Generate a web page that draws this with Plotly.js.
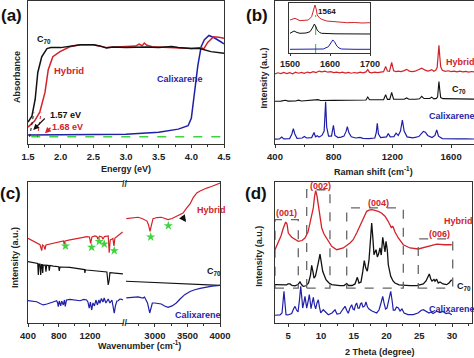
<!DOCTYPE html>
<html><head><meta charset="utf-8">
<script src="https://cdn.plot.ly/plotly-3.0.1.min.js"></script>
<style>html,body{margin:0;padding:0;background:#fff}#chart{width:474px;height:358px}</style>
</head><body><div id="chart"></div>
<script>
// ---------- (a) UV-Vis absorbance ----------
var uvE_C70 = [1.50,1.56,1.61,1.65,1.71,1.79,1.85,2.0,2.3,2.5,2.6,2.7,2.8,3.0,3.3,3.5,3.7,3.8,4.0,4.13,4.3,4.5];
var uvA_C70 = [15.3,19.4,31.3,50,61,66.7,67.4,67.4,69.4,69.4,68.6,67.2,67.8,67.4,67.9,67.4,68.2,67.5,66.7,66.7,64.6,63.4];
var uvE_Hyb = [1.50,1.60,1.68,1.76,1.81,1.88,1.99,2.14,2.3,2.5,2.7,3.0,3.15,3.2,3.25,3.28,3.32,3.4,3.7,4.0,4.15,4.19,4.25,4.34,4.42,4.5];
var uvA_Hyb = [11.8,16,22.2,36.1,52,61.1,64.6,68,69.4,69.4,67.4,68,68.5,69.8,68.8,70.6,69,68,67.4,66.7,67.4,66.5,71,75,74.6,73.9];
var uvE_Cal = [1.5,2.0,2.5,3.0,3.5,3.8,3.95,4.0,4.05,4.1,4.15,4.2,4.27,4.35,4.45,4.5];
var uvA_Cal = [6.3,6.3,6.6,6.9,8.3,10.4,12.8,18,35,55,68,73,75.9,74.3,71.5,70.1];
var uvBaseE = [1.55,4.5];
var uvBaseA = [5.1,5.1];
var tanC70E = [1.525,1.59], tanC70A = [5,22];
var tanHybE = [1.645,1.70], tanHybA = [5,22];

// ---------- (b) Raman ----------
var ramX_Hyb = [400,420,440,460,480,500,520,540,560,580,600,620,640,660,680,700,720,740,760,780,800,820,840,860,880,900,920,940,960,980,1000,1020,1032,1044,1060,1080,1100,1120,1140,1154,1166,1180,1195,1208,1225,1240,1260,1280,1297,1315,1335,1355,1375,1400,1420,1440,1455,1468,1482,1495,1505,1511,1517,1523,1529,1540,1560,1580,1600,1620,1640,1660,1680,1700,1720,1740,1756];
var ramY_Hyb = [49.0,49.8,49.2,50.0,49.3,49.9,49.1,50.2,49.5,50.1,49.4,50.3,49.8,50.6,50.0,51.0,50.4,50.9,50.2,50.6,49.9,50.3,49.7,50.2,49.6,50.1,49.5,50.0,49.6,50.2,49.8,50.4,52.0,50.1,49.8,50.3,49.9,50.5,50.6,54.2,51.0,50.8,57.0,51.2,50.6,51.0,50.6,51.3,52.2,51.0,50.6,50.9,51.6,53.0,51.8,51.0,51.3,52.0,50.9,51.5,53.5,60,69.0,61,54.0,51.6,50.8,51.2,50.6,51.0,50.4,50.9,50.5,50.8,50.3,50.7,50.4];
var ramX_C70 = [400,440,470,490,540,561,580,640,693,710,740,760,800,900,1000,1020,1032,1044,1100,1140,1154,1166,1182,1195,1208,1250,1280,1297,1312,1360,1385,1400,1415,1455,1468,1482,1500,1508,1511,1517,1523,1529,1545,1600,1700,1756];
var ramY_C70 = [29.9,30.0,30.6,30.0,30.1,30.7,30.1,30.3,31.0,30.4,30.6,30.4,30.5,30.6,30.7,30.8,32.9,30.9,30.9,31.0,34.5,31.2,31.2,36.0,31.4,31.2,31.3,32.2,31.3,31.3,31.6,33.3,31.8,31.8,32.8,31.6,31.9,33.0,37,43.7,37.5,32.5,31.7,31.5,31.5,31.4];
var ramX_Cal = [400,430,446,460,500,515,525,535,550,585,600,615,650,666,676,688,700,720,735,745,752,765,785,798,808,830,850,870,885,893,903,920,950,979,1000,1040,1080,1090,1097,1105,1120,1160,1172,1185,1210,1225,1240,1255,1268,1280,1300,1340,1380,1400,1411,1425,1440,1470,1490,1502,1514,1540,1600,1650,1700,1756];
var ramY_Cal = [3.4,3.5,4.8,3.6,3.8,7,10.8,7,4,4.2,5.3,4.2,4.5,8,5,5.8,4.8,6,9,29.5,12,5.5,5.5,13.1,6,4.5,4.8,5.5,9,12.2,8,5,4.2,4.6,4.0,3.8,4.2,8,14.5,7,4.5,5,7.4,5,5.2,7.6,6,9,16.8,9,5,4.3,5.2,8,8.8,8.3,6,4.5,6,9.9,5.5,3.8,3.5,3.6,3.6,3.5];
// inset
var insX_Hyb = [1500,1512.5,1525,1537.5,1545.8,1554,1559,1562.5,1566,1568,1574,1579,1592,1608,1625,1642,1662,1680,1700];
var insY_Hyb = [66,69.4,64.6,65.4,66,72.6,86,96,86,76,70,67.4,64,62.6,62,60.6,61,60,60.6];
var insX_C70 = [1500,1510,1517.5,1525,1540,1550,1556,1561,1565,1568,1574,1579,1612.5,1650,1700];
var insY_C70 = [39.4,44,41,39.4,40,42.6,50,58,52,46,41,39.4,38.4,38,38];
var insX_Cal = [1500,1550,1583,1596,1602.5,1607,1611,1617,1622.5,1629,1662.5,1700];
var insY_Cal = [7.4,7.4,8,12.6,22,26,23,14,10,8,7.4,7.4];
var insMarkX = [1564,1564], insMarkY = [0,76];

// ---------- (c) FTIR ----------
var irL_X_Hyb = [400,490,529,555,577,587,606,619,632,684,748,813,858,868,877,942,1028,1097,1157,1194,1209,1226,1265,1290,1303,1323,1355,1368,1387,1436,1449,1462,1480,1497,1510,1523,1545,1578,1600,1622];
var irL_Y_Hyb = [60.1,57.7,56.7,55.5,51.3,55.3,54.6,52.1,55.3,56,56.4,57.7,58.2,55.7,58.2,58.9,60.1,60.6,61.2,61,56.5,61,61.7,61.3,59.4,61.6,61,59.4,61.3,61.7,49.9,58.9,59.4,59.9,54.6,60.3,61.2,62.4,63.1,64.5];
var irR_X_Hyb = [2560,2648,2740,2802,2843,2878,2902,2925,2940,2955,2971,3032,3098,3155,3202,3263,3329,3386,3432,3489,3540,3586,3643,3694,3740,3797,3868,3925,4002];
var irR_Y_Hyb = [74,74.5,75,74.1,73.3,72.3,69.5,65,68.1,72.3,74,74.8,75,74.1,73.3,74.1,75.7,77.3,78,81.6,84.4,88.7,92.2,93.6,94.3,95.7,96.8,97.9,99.3];
var irL_X_C70 = [400,465,512,526,533,542,555,564,574,583,590,597,623,632,641,667,675,684,726,796,804,813,942,1045,1130,1135,1142,1157,1265,1372,1419,1436,1449,1458,1523,1609,1626];
var irL_Y_C70 = [43.5,42.9,42.3,42.2,34,41.8,41.8,34,41.5,41.5,35.5,41.1,41.1,36.4,41,40.8,37.1,40.8,40.4,39.9,36.9,39.7,39.5,38.7,37.9,35.5,37.8,37.6,36.9,36.4,36.2,27,30.5,35.7,35.2,34.8,34.8];
var irR_X_C70 = [2555,2771,3078,3458,3694,4002];
var irR_Y_C70 = [29.6,29.1,28.4,27.7,27.2,26.7];
var irL_X_Cal = [400,452,512,555,597,645,684,723,770,783,791,804,822,835,855,871,881,897,942,1006,1071,1123,1157,1174,1191,1206,1222,1239,1258,1277,1297,1316,1329,1348,1368,1384,1406,1436,1458,1484,1501,1514,1529,1548,1565,1587,1609,1626];
var irL_Y_Cal = [15.8,15.7,15.1,13.8,12.8,13.5,14,14.9,15.8,14.2,11.6,15.6,12.1,15.6,12.8,16.3,11.7,16.3,16.8,16.3,15.8,16.7,16.3,14.9,10.6,14.9,9.2,14.2,12.1,16.3,12.8,16.3,14,17.4,14.9,17.7,14.2,17,14.2,16.3,11.3,6.9,12.1,15.6,15.8,17,16.8,16.3];
var irR_X_Cal = [2560,2648,2740,2786,2817,2840,2863,2886,2920,2940,2960,2997,3048,3098,3148,3202,3263,3329,3386,3458,3540,3612,3694,3766,3878,4002];
var irR_Y_Cal = [17.8,18.3,18.5,18,17.7,18.4,16.3,14.2,7.1,12.1,14.2,14.2,13.8,13.5,12.1,11.1,12.1,14.2,17,20.1,22.3,23.6,24.5,25.3,26.2,26.7];
var irStarL_X = [884,1222,1320,1385,1514], irStarL_Y = [54.6,53.7,57.8,56,51.3];
var irStarR_X = [2935,3206], irStarR_Y = [61,69];

// ---------- (d) XRD ----------
var xrdX_Hyb = [3.00,3.50,3.91,4.27,4.63,4.83,5.03,5.55,6.05,6.55,7.12,7.57,8.03,8.34,8.59,8.84,9.02,9.2,9.4,9.6,9.86,10.12,10.47,10.88,11.64,12.41,13.41,14.43,14.89,15.45,15.8,16.22,16.57,16.98,17.33,17.74,18.24,18.75,19.23,19.77,20.23,20.53,20.76,20.91,21.03,21.29,21.8,22.56,23.58,24.84,26.37,27.65,28.91,29.94];
var xrdY_Hyb = [52,56.7,61.7,67.4,71.6,70.2,63.8,60.8,59.2,57.9,58.5,60.3,64.5,70.9,76.6,81.6,89.4,93.8,90.1,82.8,74.5,67.4,63.1,60.3,54.4,52,53.2,56.7,58.9,63.8,67.4,72.1,75.9,79.2,80.1,80.4,79.8,79.2,78,75.7,72.3,69.7,67.4,68.8,67.9,64.5,60.3,55.5,53.2,52.5,54.4,56,55.5,55.5];
var xrdX_C70 = [3.0,3.76,4.27,4.75,4.98,5.29,5.59,6.05,6.51,6.81,7.04,7.31,7.73,8.11,8.41,8.59,8.79,8.95,9.17,9.4,9.63,9.86,10.09,10.27,10.77,11.23,11.64,12.3,12.91,13.52,13.93,14.2,14.74,15.2,15.55,15.8,16.11,16.37,16.61,16.84,17.07,17.33,17.56,17.74,17.94,18.09,18.24,18.4,18.6,18.78,19.0,19.2,19.42,19.62,19.77,19.92,20.12,20.27,20.64,20.99,21.29,21.9,22.56,23.58,24.6,25.1,25.61,26.02,26.32,26.52,26.75,26.93,27.24,27.39,27.62,27.89,28.15,28.61,29.17,29.52,29.94];
var xrdY_C70 = [27.2,27,26.7,27,27.7,27.7,26.6,26.4,27.3,29.1,27.3,26,26.4,28.4,34,40.9,36.2,31.9,33.3,37.6,43.3,48.9,43.3,36.7,30.7,28.4,27.2,26.6,26.5,26.6,28,26.6,26.6,27.7,32.4,28.4,29.1,36.2,44.2,39,36.7,44.7,58.9,70.9,58.9,48.4,50.4,52,46.8,48.9,53.2,48.2,60.8,53.9,50.4,57.9,51.8,41.3,33.1,29.8,28.4,27,26.7,26.5,26.5,27,27.7,29.8,33.3,34.8,31.2,29.8,30.9,29.6,31.2,28.4,29.1,27.7,27.2,28.4,30.7];
var xrdX_Cal = [3.0,3.76,4.07,4.25,4.37,4.52,4.68,4.98,5.55,5.82,6.05,6.28,6.51,6.73,6.92,7.12,7.22,7.42,7.57,7.76,7.83,8.03,8.23,8.41,8.49,8.69,8.84,9.02,9.2,9.4,9.6,9.78,9.97,10.36,10.77,11.13,11.69,12.15,12.45,12.91,13.37,13.67,13.98,14.17,14.43,14.69,14.89,15.09,15.27,15.45,15.65,15.85,16.03,16.22,16.41,16.67,16.87,17.1,17.33,17.79,18.5,18.85,19.16,19.42,19.62,19.85,20.07,20.38,20.64,20.84,21.03,21.29,21.52,21.8,22.06,22.36,22.67,23.27,24.08,24.8,25.26,25.61,26.02,26.48,26.78,27.09,27.65,28.15,28.61,29.07,29.52,29.94];
var xrdY_Cal = [5.5,5.7,7.1,16.3,22.5,14.2,5.9,5.7,6.7,9.9,11.8,9.2,7.8,16.3,26,16.3,10.6,14.9,18.9,12.8,10.6,14.9,20.1,13.5,10.1,14.9,18.2,12.8,10.1,14.2,16.5,11.3,7.1,9.4,7.1,5.9,7.1,9.4,6.4,6.7,9.9,11.8,8.5,6.9,10.6,13,9.9,9.4,12.8,14.2,10.6,10.6,13.5,14.2,11.3,12.1,14.9,11.3,9.9,8.5,7.1,9.2,14.2,18.9,14.2,9.9,10.6,16.3,22.5,16.3,9.2,9.2,11.3,10.6,8.5,9.9,7.1,6,5.9,7.1,8.9,9.4,8.2,7.1,7.8,6.7,8.3,7.4,8.2,6.7,7.1,5.9];
// dashed regions of the (00l) reflections
var xrdRegionX0 = [3.0, 7.83, 13.93, 24.84];
var xrdRegionX1 = [6.55, 11.38, 22.56, 30.09];
var xrdRegionTop = [73.3, 94.5, 81.6, 59.6];
var xrdRegionBottom = 24.8;
var xrdRegionLabels = ['(001)','(002)','(004)','(006)'];

// ---------- styling / layout ----------
var W = 474, H = 358;
function fx(px){ return px / W; }
function fy(py){ return 1 - py / H; }
var RED = '#d2232a', BLK = '#111111', BLU = '#1f1fa8', GRN = '#3fd33f', AX = '#333333';
var FONT = 'Liberation Sans, Arial, sans-serif';

function ln(x, y, xa, ya, color, w, dash){
  return {x: x, y: y, xaxis: xa, yaxis: ya, type: 'scatter', mode: 'lines',
          line: {color: color, width: w || 1.3, dash: dash || 'solid'}, hoverinfo: 'skip'};
}
var traces = [
  ln(uvBaseE, uvBaseA, 'x', 'y', GRN, 1.5, 'dash'),
  ln(uvE_Cal, uvA_Cal, 'x', 'y', BLU, 1.5),
  ln(uvE_Hyb, uvA_Hyb, 'x', 'y', RED, 1.5),
  ln(uvE_C70, uvA_C70, 'x', 'y', BLK, 1.5),
  ln(tanC70E, tanC70A, 'x', 'y', BLK, 1, 'dot'),
  ln(tanHybE, tanHybA, 'x', 'y', RED, 1, 'dot'),

  ln(ramX_Hyb, ramY_Hyb, 'x2', 'y2', RED, 1.2),
  ln(ramX_C70, ramY_C70, 'x2', 'y2', BLK, 1.1),
  ln(ramX_Cal, ramY_Cal, 'x2', 'y2', BLU, 1.2),
  ln(insMarkX, insMarkY, 'x6', 'y5', GRN, 1.2, 'dash'),
  ln(insX_Hyb, insY_Hyb, 'x6', 'y5', RED, 1),
  ln(insX_C70, insY_C70, 'x6', 'y5', BLK, 1),
  ln(insX_Cal, insY_Cal, 'x6', 'y5', BLU, 1),

  ln(irL_X_Hyb, irL_Y_Hyb, 'x3', 'y3', RED, 1.2),
  ln(irL_X_C70, irL_Y_C70, 'x3', 'y3', BLK, 1.2),
  ln(irL_X_Cal, irL_Y_Cal, 'x3', 'y3', BLU, 1.2),
  ln(irR_X_Hyb, irR_Y_Hyb, 'x4', 'y6', RED, 1.2),
  ln(irR_X_C70, irR_Y_C70, 'x4', 'y6', BLK, 1.2),
  ln(irR_X_Cal, irR_Y_Cal, 'x4', 'y6', BLU, 1.2),
  {x: irStarL_X, y: irStarL_Y, xaxis: 'x3', yaxis: 'y3', type: 'scatter', mode: 'markers', cliponaxis: false,
   marker: {symbol: 'star', size: 7, color: GRN, line: {width: 0}}, hoverinfo: 'skip'},
  {x: irStarR_X, y: irStarR_Y, xaxis: 'x4', yaxis: 'y6', type: 'scatter', mode: 'markers', cliponaxis: false,
   marker: {symbol: 'star', size: 7, color: GRN, line: {width: 0}}, hoverinfo: 'skip'},

  ln(xrdX_Hyb, xrdY_Hyb, 'x5', 'y4', RED, 1.3),
  ln(xrdX_C70, xrdY_C70, 'x5', 'y4', BLK, 1.3),
  ln(xrdX_Cal, xrdY_Cal, 'x5', 'y4', BLU, 1.2)
];

var tickF = {size: 9.5, color: '#222', family: FONT, weight: 'bold'};
function xax(d, r, extra){
  var o = {domain: d, range: r, showline: true, linecolor: AX, linewidth: 1.4, mirror: true,
           ticks: 'outside', ticklen: 3, tickwidth: 1, tickcolor: AX, tickfont: tickF,
           showgrid: false, zeroline: false, fixedrange: true};
  for (var k in extra) o[k] = extra[k];
  return o;
}
function yax(d, extra){
  var o = {domain: d, range: [0, 100], showline: true, linecolor: AX, linewidth: 1.4, mirror: true,
           ticks: '', showticklabels: false, showgrid: false, zeroline: false, fixedrange: true};
  for (var k in extra) o[k] = extra[k];
  return o;
}
var topRow = [fy(144), fy(1)];
var botRow = [fy(323), fy(182)];

var layout = {
  width: W, height: H, margin: {l: 0, r: 0, t: 0, b: 0},
  paper_bgcolor: '#fff', plot_bgcolor: 'rgba(0,0,0,0)', showlegend: false,
  font: {family: FONT, size: 9.5, color: '#222', weight: 'bold'},
  xaxis: xax([fx(28), fx(224)], [1.5, 4.5], {anchor: 'y', dtick: 0.5, tick0: 1.5, tickformat: '.1f',
          minor: {dtick: 0.25, ticks: 'outside', ticklen: 2, tickcolor: AX}}),
  yaxis: yax(topRow, {anchor: 'x'}),
  xaxis2: xax([fx(275), 1], [400, 1756], {anchor: 'y2', dtick: 400, tick0: 400,
          minor: {dtick: 200, ticks: 'outside', ticklen: 2, tickcolor: AX}}),
  yaxis2: yax(topRow, {anchor: 'x2'}),
  xaxis3: xax([fx(28), fx(124)], [400, 1640], {anchor: 'y3', tickvals: [400, 800, 1200],
          minor: {tickvals: [600, 1000, 1400], ticks: 'outside', ticklen: 2, tickcolor: AX}}),
  yaxis3: yax(botRow, {anchor: 'x3', mirror: false}),
  xaxis4: xax([fx(125), fx(220)], [2540, 4000], {anchor: 'y6', tickvals: [3000, 3500, 4000],
          minor: {tickvals: [2750, 3250, 3750], ticks: 'outside', ticklen: 2, tickcolor: AX}}),
  yaxis6: yax(botRow, {anchor: 'x4', side: 'right', mirror: false}),
  xaxis5: xax([fx(275), fx(472)], [3, 33.03], {anchor: 'y4', dtick: 5, tick0: 0,
          minor: {dtick: 2.5, ticks: 'outside', ticklen: 2, tickcolor: AX}}),
  yaxis4: yax(botRow, {anchor: 'x5'}),
  xaxis6: xax([fx(289), fx(370)], [1497.5, 1700], {anchor: 'y5', tickvals: [1500, 1600, 1700], ticklen: 2,
          linewidth: 1, tickfont: {size: 9, color: '#222', family: FONT, weight: 'bold'}}),
  yaxis5: yax([fy(53), fy(3)], {anchor: 'x6', linewidth: 1}),
  shapes: [],
  annotations: []
};

for (var i = 0; i < xrdRegionX0.length; i++) {
  layout.shapes.push({type: 'rect', xref: 'x5', yref: 'y4', x0: xrdRegionX0[i], x1: xrdRegionX1[i],
    y0: xrdRegionBottom, y1: xrdRegionTop[i], line: {color: '#666', width: 1.3, dash: 'dash'}});
}

function txt(x, y, t, color, xr, yr, opts){
  var a = {x: x, y: y, text: t, xref: xr, yref: yr, showarrow: false,
           font: {family: FONT, size: 9, color: color, weight: 'bold'}, xanchor: 'left', yanchor: 'middle'};
  for (var k in opts) a[k] = opts[k];
  return a;
}
function arrow(x, y, xr, yr, ax, ay, color, size, width){
  return {x: x, y: y, xref: xr, yref: yr, text: '', showarrow: true, ax: ax, ay: ay,
          arrowhead: 2, arrowsize: size, arrowwidth: width, arrowcolor: color};
}
var A = layout.annotations;
// (a)
A.push(txt(1.607, 73.2, 'C<sub>70</sub>', BLK, 'x', 'y'));
A.push(txt(1.863, 51.7, 'Hybrid', RED, 'x', 'y', {font: {family: FONT, size: 9.5, color: RED, weight: 'bold'}}));
A.push(txt(3.444, 45.2, 'Calixarene', BLU, 'x', 'y'));
A.push(txt(1.811, 20.3, '1.57 eV', BLK, 'x', 'y'));
A.push(txt(1.837, 11.7, '1.68 eV', RED, 'x', 'y'));
A.push(arrow(1.58, 9.8, 'x', 'y', 13, -13, BLK, 1, 1.2));
A.push(arrow(1.76, 7.5, 'x', 'y', 7, -7, RED, 1, 1.2));
// (b)
A.push(txt(1552, 57.2, 'Hybrid', RED, 'x2', 'y2'));
A.push(txt(1592, 37.9, 'C<sub>70</sub>', BLK, 'x2', 'y2'));
A.push(txt(1436, 19.3, 'Calixarene', BLU, 'x2', 'y2'));
A.push(txt(1592.5, 82, '1564', BLK, 'x6', 'y5', {xanchor: 'center', font: {family: FONT, size: 8, color: BLK, weight: 'bold'}}));
// (c)
A.push(txt(3617, 80.1, 'Hybrid', RED, 'x4', 'y6'));
A.push(txt(3772, 36.2, 'C<sub>70</sub>', BLK, 'x4', 'y6'));
A.push(txt(3278, 5.9, 'Calixarene', BLU, 'x4', 'y6'));
A.push(arrow(3478, 71.6, 'x4', 'y6', -5, -7, BLK, 0.7, 2));

function ptext(t, px, py, size, color, rot){
  return {x: fx(px), y: fy(py), xref: 'paper', yref: 'paper', text: t, showarrow: false,
          xanchor: 'center', yanchor: 'middle', textangle: rot || 0,
          font: {family: FONT, size: size, color: color, weight: 'bold'}};
}
A.push(ptext('//', 125, 183.5, 9, AX));
A.push(ptext('//', 125, 323, 9, AX));
// (d)
var xrdLabX = [4.68, 9.86, 18.75, 28.15], xrdLabY = [78, 97, 85.1, 63.1];
for (var j = 0; j < xrdRegionLabels.length; j++) {
  A.push(txt(xrdLabX[j], xrdLabY[j], xrdRegionLabels[j], RED, 'x5', 'y4', {xanchor: 'center'}));
}
A.push(txt(28.41, 72.1, 'Hybrid', RED, 'x5', 'y4'));
A.push(txt(30.44, 26, 'C<sub>70</sub>', BLK, 'x5', 'y4'));
A.push(txt(26.12, 10.1, 'Calixarene', BLU, 'x5', 'y4'));

// panel letters
A.push(ptext('(a)', 11, 15.5, 17, '#111'));
A.push(ptext('(b)', 257, 15, 17, '#111'));
A.push(ptext('(c)', 10, 193.5, 17, '#111'));
A.push(ptext('(d)', 256, 193.5, 17, '#111'));

// axis titles
A.push(ptext('Energy (eV)', 126, 169, 9, '#222'));
A.push(ptext('Absorbance', 17, 77, 9, '#222', -90));
A.push(ptext('Raman shift (cm<sup>-1</sup>)', 373.5, 171, 9, '#222'));
A.push(ptext('Intensity (a.u.)', 264, 78.5, 9, '#222', -90));
A.push(ptext('Wavenumber (cm<sup>-1</sup>)', 139.6, 345, 9, '#222'));
A.push(ptext('Intensity (a.u.)', 15, 258, 9, '#222', -90));
A.push(ptext('2 Theta (degree)', 380, 351.7, 9, '#222'));
A.push(ptext('Intensity (a.u.)', 258.7, 256, 9, '#222', -90));

Plotly.newPlot('chart', traces, layout, {staticPlot: true, displayModeBar: false});
</script></body></html>
